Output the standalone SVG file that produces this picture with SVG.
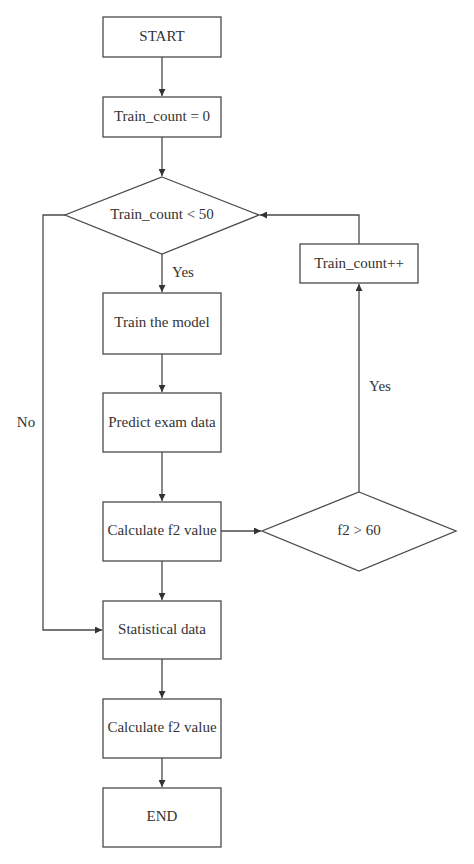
<svg xmlns="http://www.w3.org/2000/svg" width="474" height="864" viewBox="0 0 474 864">
<style>
.box{fill:#fff;stroke:#4a4a4a;stroke-width:1.3}
.ln{fill:none;stroke:#4a4a4a;stroke-width:1.3}
.t{font-family:'Liberation Serif','DejaVu Serif',serif;font-size:15px;fill:#333;text-anchor:middle}
</style>
<defs>
<marker id="ah" viewBox="0 0 10 10" refX="10" refY="5" markerWidth="7" markerHeight="7" markerUnits="userSpaceOnUse" orient="auto">
<path d="M0,0 L10,5 L0,10 Z" fill="#333"/>
</marker>
</defs>
<rect width="474" height="864" fill="#fff"/>
<g id="connectors">
<path class="ln" d="M162,57 V96" marker-end="url(#ah)"/>
<path class="ln" d="M162,137 V176" marker-end="url(#ah)"/>
<path class="ln" d="M162,254 V292" marker-end="url(#ah)"/>
<path class="ln" d="M162,354 V392" marker-end="url(#ah)"/>
<path class="ln" d="M162,452 V501" marker-end="url(#ah)"/>
<path class="ln" d="M162,561 V600" marker-end="url(#ah)"/>
<path class="ln" d="M162,659 V698" marker-end="url(#ah)"/>
<path class="ln" d="M162,758 V787" marker-end="url(#ah)"/>
<path class="ln" d="M221,531 H261" marker-end="url(#ah)"/>
<path class="ln" d="M359,492 V284" marker-end="url(#ah)"/>
<path class="ln" d="M359,244 V215 H260" marker-end="url(#ah)"/>
<path class="ln" d="M65,215 H43 V630 H102" marker-end="url(#ah)"/>
<text class="t" x="183" y="277">Yes</text>
<text class="t" x="380" y="391">Yes</text>
<text class="t" x="26" y="427">No</text>
</g>
<g id="start"><rect class="box" x="103" y="17" width="118" height="40"/><text class="t" x="162" y="41">START</text></g>
<g id="init"><rect class="box" x="103" y="97" width="118" height="40"/><text class="t" x="162" y="121">Train_count = 0</text></g>
<g id="cond1"><polygon class="box" points="162,177 259,215 162,254 65,215"/><text class="t" x="162" y="219">Train_count &lt; 50</text></g>
<g id="incr"><rect class="box" x="300" y="244" width="118" height="39"/><text class="t" x="359" y="268">Train_count++</text></g>
<g id="train"><rect class="box" x="103" y="293" width="118" height="61"/><text class="t" x="162" y="327">Train the model</text></g>
<g id="predict"><rect class="box" x="103" y="393" width="118" height="59"/><text class="t" x="162" y="427">Predict exam data</text></g>
<g id="calc1"><rect class="box" x="103" y="502" width="118" height="59"/><text class="t" x="162" y="535">Calculate f2 value</text></g>
<g id="cond2"><polygon class="box" points="359,492 456,531 359,571 262,531"/><text class="t" x="359" y="535">f2 &gt; 60</text></g>
<g id="stat"><rect class="box" x="103" y="601" width="118" height="58"/><text class="t" x="162" y="634">Statistical data</text></g>
<g id="calc2"><rect class="box" x="103" y="699" width="118" height="59"/><text class="t" x="162" y="732">Calculate f2 value</text></g>
<g id="end"><rect class="box" x="103" y="788" width="118" height="59"/><text class="t" x="162" y="821">END</text></g>
</svg>
